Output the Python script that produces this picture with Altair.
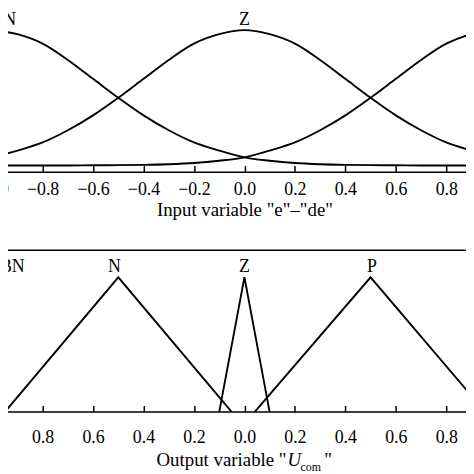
import altair as alt
import pandas as pd

FONT = "Liberation Serif"

# ---------------- top panel: input membership functions
x_in = [-1.0, -0.9, -0.8, -0.7, -0.6, -0.5, -0.4, -0.3, -0.2, -0.1, 0.0,
        0.1, 0.2, 0.3, 0.4, 0.5, 0.6, 0.7, 0.8, 0.9, 1.0]
mu_N = [1.00, 0.97, 0.90, 0.78, 0.64, 0.50, 0.37, 0.26, 0.17, 0.11, 0.06,
        0.035, 0.018, 0.009, 0.004, 0.002, 0.001, 0.0, 0.0, 0.0, 0.0]
mu_Z = [0.06, 0.11, 0.17, 0.26, 0.37, 0.50, 0.64, 0.78, 0.90, 0.97, 1.00,
        0.97, 0.90, 0.78, 0.64, 0.50, 0.37, 0.26, 0.17, 0.11, 0.06]
mu_P = [0.0, 0.0, 0.0, 0.0, 0.001, 0.002, 0.004, 0.009, 0.018, 0.035, 0.06,
        0.11, 0.17, 0.26, 0.37, 0.50, 0.64, 0.78, 0.90, 0.97, 1.00]
in_sets = ["N", "Z", "P"]
in_label_x = [-0.93, 0.0, 0.93]
in_label_y = [1.04, 1.04, 1.04]

# ---------------- bottom panel: output membership functions (triangles)
out_sets = ["BN", "N", "Z", "P", "BP"]
tri_left = [-1.05, -0.95, -0.10, 0.04, 0.95]
tri_peak = [-1.00, -0.50, 0.00, 0.50, 1.00]
tri_right = [-0.95, -0.05, 0.10, 0.955, 1.05]
out_label_names = ["BN", "N", "Z", "P"]
out_label_x = [-0.92, -0.515, 0.0, 0.505]
out_label_y = [1.04, 1.04, 1.04, 1.04]

tick_values = [-1.0, -0.8, -0.6, -0.4, -0.2, 0.0, 0.2, 0.4, 0.6, 0.8, 1.0]

top_title = 'Input variable "e"\u2013"de"'
bottom_title_parts = ['Output variable "', "U", "com", '"']

# ---------------- tables
rows = []
for name, vals in zip(in_sets, [mu_N, mu_Z, mu_P]):
    for i, (xv, yv) in enumerate(zip(x_in, vals)):
        rows.append({"set": name, "x": xv, "mu": yv, "o": i})
df_top = pd.DataFrame(rows)
df_top_lab = pd.DataFrame({"label": in_sets, "x": in_label_x, "y": in_label_y})

rows = []
for name, a, b, c in zip(out_sets, tri_left, tri_peak, tri_right):
    rows += [{"set": name, "x": a, "mu": 0.0, "o": 0},
             {"set": name, "x": b, "mu": 1.0, "o": 1},
             {"set": name, "x": c, "mu": 0.0, "o": 2}]
df_bot = pd.DataFrame(rows)
df_bot_lab = pd.DataFrame({"label": out_label_names, "x": out_label_x, "y": out_label_y})

W = 509
H_TOP = 170.6
H_BOT = 163.2
TICK = 6.7


def x_axis(label_padding, title=None, label_expr=None, title_padding=2):
    kw = dict(values=tick_values, format=".1f", labelFlush=False, labelOverlap=False,
              offset=-TICK, tickSize=TICK, domain=False, grid=False,
              labelPadding=label_padding, labelFont=FONT, labelFontSize=18,
              labelColor="black", tickColor="black", tickWidth=1.5)
    if label_expr:
        kw["labelExpr"] = label_expr
    if title:
        kw.update(title=title, titleFont=FONT, titleFontSize=19, titleFontWeight="normal",
                  titleColor="black", titlePadding=title_padding)
    else:
        kw["title"] = None
    return alt.Axis(**kw)


xs = alt.Scale(domain=[-1, 1], nice=False, zero=False)

top_lines = alt.Chart(df_top).mark_line(
    color="black", strokeWidth=1.9, interpolate="monotone", clip=True
).encode(
    x=alt.X("x:Q", scale=xs, axis=x_axis(8.7, title=top_title)),
    y=alt.Y("mu:Q", scale=alt.Scale(domain=[-0.05, 1.2], nice=False, zero=False), axis=None),
    detail="set:N",
    order="o:Q",
)
top_text = alt.Chart(df_top_lab).mark_text(
    font=FONT, fontSize=18, baseline="alphabetic", color="black"
).encode(x="x:Q", y="y:Q", text="label:N")
top = alt.layer(top_lines, top_text).properties(width=W, height=H_TOP)

bot_lines = alt.Chart(df_bot).mark_line(
    color="black", strokeWidth=1.9, clip=True
).encode(
    x=alt.X("x:Q", scale=xs,
            axis=x_axis(17, label_expr="format(abs(datum.value), '.1f')")),
    y=alt.Y("mu:Q", scale=alt.Scale(domain=[0, 1.2], nice=False, zero=False), axis=None),
    detail="set:N",
    order="o:Q",
)
bot_text = alt.Chart(df_bot_lab).mark_text(
    font=FONT, fontSize=18, baseline="alphabetic", color="black"
).encode(x="x:Q", y="y:Q", text="label:N")

anchor = 0.167
t_df = pd.DataFrame({"k": [0]})
t1 = alt.Chart(t_df).mark_text(font=FONT, fontSize=19, align="right", baseline="alphabetic",
                              color="black", text=bottom_title_parts[0]).encode(
    x=alt.datum(anchor), y=alt.value(218))
t2 = alt.Chart(t_df).mark_text(font=FONT, fontSize=19, fontStyle="italic", align="left",
                              baseline="alphabetic", color="black", dx=1,
                              text=bottom_title_parts[1]).encode(
    x=alt.datum(anchor), y=alt.value(218))
t3 = alt.Chart(t_df).mark_text(font=FONT, fontSize=12, align="left", baseline="alphabetic",
                              color="black", dx=14, text=bottom_title_parts[2]).encode(
    x=alt.datum(anchor), y=alt.value(223))
t4 = alt.Chart(t_df).mark_text(font=FONT, fontSize=19, align="left", baseline="alphabetic",
                              color="black", dx=38, text=bottom_title_parts[3]).encode(
    x=alt.datum(anchor), y=alt.value(218))

bottom = alt.layer(bot_lines, bot_text, t1, t2, t3, t4).properties(width=W, height=H_BOT)

chart = alt.vconcat(top, bottom, spacing=78.4, bounds="flush").properties(
    padding={"left": -34, "top": -8, "right": -43, "bottom": -2},
    background="white",
).configure_view(stroke="black", strokeWidth=1.5)

chart.save("out.html", embed_options={"renderer": "svg", "actions": False})
